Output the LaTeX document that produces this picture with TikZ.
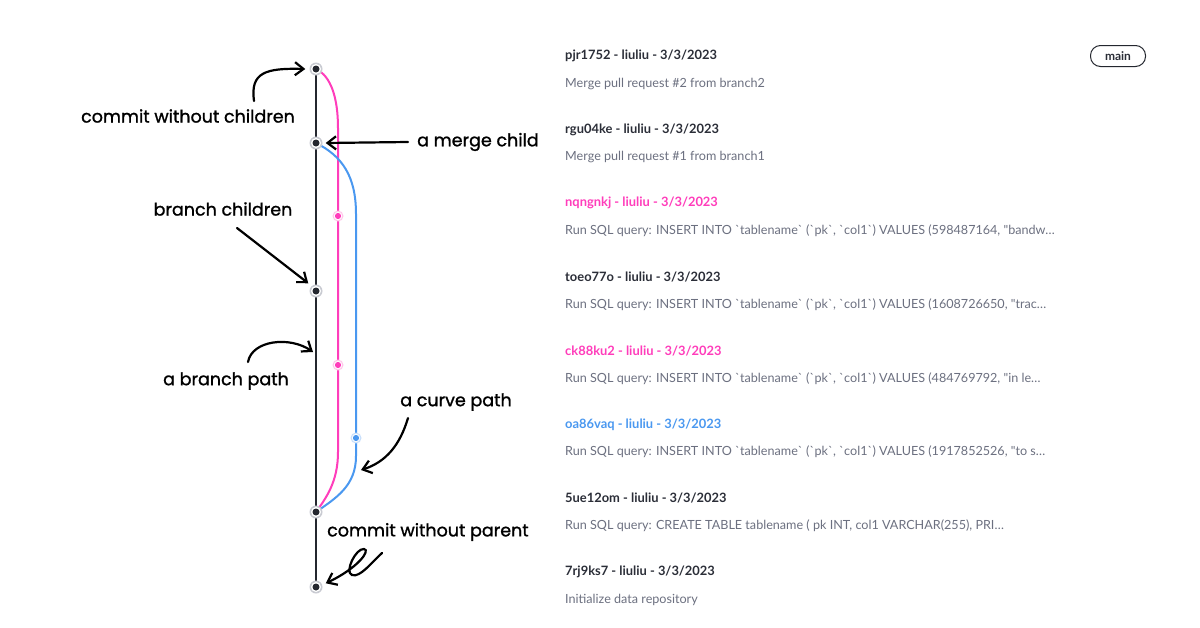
\documentclass[tikz,border=0pt]{standalone}
\usepackage{fontspec}
\setmainfont{Lato}[Ligatures=TeXOff]
\newfontfamily\handfont{Poppins}[FakeBold=1.2]
\usetikzlibrary{arrows.meta,positioning,backgrounds}
\definecolor{GraphInk}{HTML}{24272F}
\definecolor{RingGray}{HTML}{C9CBD2}
\definecolor{BranchPink}{HTML}{FF3DBB}
\definecolor{SoftPink}{HTML}{FFC6EA}
\definecolor{BranchBlue}{HTML}{4A98F0}
\definecolor{SoftBlue}{HTML}{C8DFFB}
\definecolor{TitleInk}{HTML}{2B2E38}
\definecolor{MetaGray}{HTML}{6C7080}
\newcommand{\bq}{`}

\begin{document}
\begin{tikzpicture}[
  x=1pt,y=-1pt,
  every node/.style={inner sep=0pt},
  commit/.style={circle,minimum size=13pt,fill=RingGray,
    path picture={\fill[white] (path picture bounding box.center) circle (5pt);
      \fill[GraphInk] (path picture bounding box.center) circle (3.5pt);}},
  pinkdot/.style={circle,minimum size=11pt,fill=SoftPink,
    path picture={\fill[white] (path picture bounding box.center) circle (4.2pt);
      \fill[BranchPink] (path picture bounding box.center) circle (3.1pt);}},
  bluedot/.style={circle,minimum size=11pt,fill=SoftBlue,
    path picture={\fill[white] (path picture bounding box.center) circle (4.2pt);
      \fill[BranchBlue] (path picture bounding box.center) circle (3.1pt);}},
  mainline/.style={draw=GraphInk,line width=2.6pt},
  pinkline/.style={draw=BranchPink,line width=2pt},
  blueline/.style={draw=BranchBlue,line width=2pt},
  title/.style={anchor=west,font=\fontsize{12.9}{14}\selectfont\bfseries,text=TitleInk},
  desc/.style={anchor=west,font=\fontsize{12.6}{14}\selectfont,text=MetaGray},
  hand/.style={font=\handfont\fontsize{17.5}{20}\selectfont,text=black},
  note/.style={draw=black,line width=2.2pt,line cap=round,-{Straight Barb[length=3mm,width=4.6mm]}}
]
\path[use as bounding box] (0,0) rectangle (1200,627);

% commits on main
\node[commit] (c1) at (316,69) {};
\node[commit] (c2) at (316,143) {};
\node[commit] (c3) at (316,291) {};
\node[commit] (c7) at (316,512) {};
\node[commit] (c8) at (316,587) {};
\node[pinkdot] (p1) at (338,216) {};
\node[pinkdot] (p2) at (338,365) {};
\node[bluedot] (b1) at (356,438) {};

\begin{scope}[on background layer]
\fill[white] (0,0) rectangle (1200,627);
\draw[mainline] (c1.center) -- (c2.center) -- (c3.center) -- (c7.center) -- (c8.center);
\draw[pinkline] (c1.center) .. controls (331,76) and (338,98) .. (338,128)
  -- (p1.center) -- (p2.center) -- (338,452) .. controls (338,482) and (326,498) .. (c7.center);
\draw[blueline] (c2.center) .. controls (342,156) and (356,176) .. (356,214)
  -- (b1.center) -- (356,456) .. controls (356,486) and (336,498) .. (c7.center);
\end{scope}

% commit rows
\node[title] (r1) at (565,56) {pjr1752 - liuliu - 3/3/2023};
\node[desc] (d1) at (565,84) {Merge pull request \#2 from branch2};
\node[title] (r2) at (565,130) {rgu04ke - liuliu - 3/3/2023};
\node[desc] (d2) at (565,157) {Merge pull request \#1 from branch1};
\node[title,text=BranchPink] (r3) at (565,203) {nqngnkj - liuliu - 3/3/2023};
\node[desc] (d3) at (565,231) {Run SQL query: INSERT INTO \bq tablename\bq{} (\bq pk\bq, \bq col1\bq) VALUES (598487164, "bandw…};
\node[title] (r4) at (565,277) {toeo77o - liuliu - 3/3/2023};
\node[desc] (d4) at (565,305) {Run SQL query: INSERT INTO \bq tablename\bq{} (\bq pk\bq, \bq col1\bq) VALUES (1608726650, "trac…};
\node[title,text=BranchPink] (r5) at (565,351) {ck88ku2 - liuliu - 3/3/2023};
\node[desc] (d5) at (565,379) {Run SQL query: INSERT INTO \bq tablename\bq{} (\bq pk\bq, \bq col1\bq) VALUES (484769792, "in le…};
\node[title,text=BranchBlue] (r6) at (565,425) {oa86vaq - liuliu - 3/3/2023};
\node[desc] (d6) at (565,452) {Run SQL query: INSERT INTO \bq tablename\bq{} (\bq pk\bq, \bq col1\bq) VALUES (1917852526, "to s…};
\node[title] (r7) at (565,498) {5ue12om - liuliu - 3/3/2023};
\node[desc] (d7) at (565,526) {Run SQL query: CREATE TABLE tablename ( pk INT, col1 VARCHAR(255), PRI…};
\node[title] (r8) at (565,572) {7rj9ks7 - liuliu - 3/3/2023};
\node[desc] (d8) at (565,600) {Initialize data repository};
\node[draw=GraphInk,line width=1pt,rounded corners=10pt,minimum width=55pt,minimum height=21pt,
  font=\fontsize{12}{14}\selectfont\bfseries,text=TitleInk] (mainbadge) at (1118,56) {main};

% annotations
\node[hand] (n1) at (188,116) {commit without children};
\node[hand,anchor=west] (n2) at (417,142) {a merge child};
\node[hand] (n3) at (223,209) {branch children};
\node[hand] (n4) at (226,381) {a branch path};
\node[hand] (n5) at (456,402) {a curve path};
\node[hand,anchor=west] (n6) at (327,532) {commit without parent};
\coordinate (t1) at (254,101);
\coordinate (t3) at (237,228);
\coordinate (t4) at (248,362);
\coordinate (h4) at (313,352);
\coordinate (t5) at (408,418);
\coordinate (h5) at (361,470);
\coordinate (t6) at (382,553);
\draw[note] (t1) .. controls (250,72) and (266,68) .. ([xshift=-4pt]c1.west);
\draw[note] ([xshift=-9pt]n2.west) -- ([xshift=3pt]c2.east);
\draw[note] (t3) -- ([xshift=-3pt,yshift=3pt]c3.north west);
\draw[note] (t4) .. controls (252,340) and (290,336) .. (h4);
\draw[note] (t5) .. controls (400,445) and (386,462) .. (h5);
\draw[note] (t6) .. controls (372,562) and (360,578) .. (352,575)
  .. controls (344,572) and (356,548) .. (364,549)
  .. controls (371,550) and (358,568) .. ([xshift=5pt,yshift=-1pt]c8.north east);
\end{tikzpicture}
\end{document}
